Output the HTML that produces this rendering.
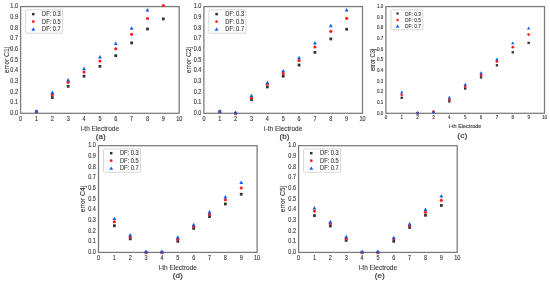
<!DOCTYPE html>
<html><head><meta charset="utf-8"><style>
html,body{margin:0;padding:0;background:#fff;}
body{width:550px;height:283px;overflow:hidden;}
svg{display:block;filter:blur(0.25px);}
text{font-family:"Liberation Sans",Arial,sans-serif;fill:#3c3c3c;stroke:#3c3c3c;stroke-width:0.12px;}
text.cap{stroke-width:0.2px;}
</style></head><body>
<svg width="550" height="283" viewBox="0 0 550 283">
<rect width="550" height="283" fill="#fff"/>
<text transform="translate(18 115) scale(1 1.15)" text-anchor="end" font-size="5.5">0.0</text>
<text transform="translate(18 104.33) scale(1 1.15)" text-anchor="end" font-size="5.5">0.1</text>
<text transform="translate(18 93.66) scale(1 1.15)" text-anchor="end" font-size="5.5">0.2</text>
<text transform="translate(18 82.99) scale(1 1.15)" text-anchor="end" font-size="5.5">0.3</text>
<text transform="translate(18 72.32) scale(1 1.15)" text-anchor="end" font-size="5.5">0.4</text>
<text transform="translate(18 61.65) scale(1 1.15)" text-anchor="end" font-size="5.5">0.5</text>
<text transform="translate(18 50.98) scale(1 1.15)" text-anchor="end" font-size="5.5">0.6</text>
<text transform="translate(18 40.31) scale(1 1.15)" text-anchor="end" font-size="5.5">0.7</text>
<text transform="translate(18 29.64) scale(1 1.15)" text-anchor="end" font-size="5.5">0.8</text>
<text transform="translate(18 18.97) scale(1 1.15)" text-anchor="end" font-size="5.5">0.9</text>
<text transform="translate(18 8.3) scale(1 1.15)" text-anchor="end" font-size="5.5">1.0</text>
<text transform="translate(20.6 120.6) scale(1 1.15)" text-anchor="middle" font-size="5.5">0</text>
<text transform="translate(36.46 120.6) scale(1 1.15)" text-anchor="middle" font-size="5.5">1</text>
<text transform="translate(52.32 120.6) scale(1 1.15)" text-anchor="middle" font-size="5.5">2</text>
<text transform="translate(68.18 120.6) scale(1 1.15)" text-anchor="middle" font-size="5.5">3</text>
<text transform="translate(84.04 120.6) scale(1 1.15)" text-anchor="middle" font-size="5.5">4</text>
<text transform="translate(99.9 120.6) scale(1 1.15)" text-anchor="middle" font-size="5.5">5</text>
<text transform="translate(115.76 120.6) scale(1 1.15)" text-anchor="middle" font-size="5.5">6</text>
<text transform="translate(131.62 120.6) scale(1 1.15)" text-anchor="middle" font-size="5.5">7</text>
<text transform="translate(147.48 120.6) scale(1 1.15)" text-anchor="middle" font-size="5.5">8</text>
<text transform="translate(163.34 120.6) scale(1 1.15)" text-anchor="middle" font-size="5.5">9</text>
<text transform="translate(179.2 120.6) scale(1 1.15)" text-anchor="middle" font-size="5.5">10</text>
<text x="99.9" y="130.6" text-anchor="middle" font-size="6.5">i-th Electrode</text>
<text class="cap" x="100.7" y="138.8" text-anchor="middle" font-size="7.6" textLength="9.9" lengthAdjust="spacingAndGlyphs">(a)</text>
<text transform="translate(8.51 59.95) rotate(-90) scale(1 1.0)" text-anchor="middle" font-size="6.8">error C1j</text>
<rect x="20.6" y="6.6" width="158.6" height="106.7" fill="none" stroke="#7a7a7a" stroke-width="1.25"/>
<rect x="35.06" y="110.3" width="2.79" height="2.79" fill="#333333"/>
<rect x="50.92" y="96.11" width="2.79" height="2.79" fill="#333333"/>
<rect x="66.79" y="84.91" width="2.79" height="2.79" fill="#333333"/>
<rect x="82.64" y="74.77" width="2.79" height="2.79" fill="#333333"/>
<rect x="98.51" y="64.96" width="2.79" height="2.79" fill="#333333"/>
<rect x="114.36" y="54.29" width="2.79" height="2.79" fill="#333333"/>
<rect x="130.22" y="41.48" width="2.79" height="2.79" fill="#333333"/>
<rect x="146.08" y="27.61" width="2.79" height="2.79" fill="#333333"/>
<rect x="161.94" y="17.48" width="2.79" height="2.79" fill="#333333"/>
<circle cx="36.46" cy="111.7" r="1.56" fill="#ff1a1a"/>
<circle cx="52.32" cy="94.84" r="1.56" fill="#ff1a1a"/>
<circle cx="68.18" cy="82.36" r="1.56" fill="#ff1a1a"/>
<circle cx="84.04" cy="72.01" r="1.56" fill="#ff1a1a"/>
<circle cx="99.9" cy="61.02" r="1.56" fill="#ff1a1a"/>
<circle cx="115.76" cy="48.75" r="1.56" fill="#ff1a1a"/>
<circle cx="131.62" cy="34.34" r="1.56" fill="#ff1a1a"/>
<circle cx="147.48" cy="18.55" r="1.56" fill="#ff1a1a"/>
<circle cx="163.34" cy="5.53" r="1.56" fill="#ff1a1a"/>
<path d="M36.46 109.24L38.41 112.66L34.51 112.66Z" fill="#1060e8"/>
<path d="M52.32 90.46L54.27 93.88L50.37 93.88Z" fill="#1060e8"/>
<path d="M68.18 77.98L70.13 81.4L66.23 81.4Z" fill="#1060e8"/>
<path d="M84.04 66.78L85.99 70.2L82.09 70.2Z" fill="#1060e8"/>
<path d="M99.9 55.04L101.85 58.46L97.95 58.46Z" fill="#1060e8"/>
<path d="M115.76 41.59L117.71 45.01L113.81 45.01Z" fill="#1060e8"/>
<path d="M131.62 26.23L133.57 29.65L129.67 29.65Z" fill="#1060e8"/>
<path d="M147.48 8.09L149.43 11.51L145.53 11.51Z" fill="#1060e8"/>
<rect x="25.6" y="9.8" width="37.0" height="23.4" rx="1" fill="#fff" fill-opacity="0.8" stroke="#c8c8c8" stroke-width="0.7"/>
<rect x="32.04" y="12.84" width="2.51" height="2.51" fill="#333333"/>
<text transform="translate(42 16.32) scale(1 1.15)" font-size="5.75" textLength="18.8" lengthAdjust="spacingAndGlyphs">DF: 0.3</text>
<circle cx="33.3" cy="21.55" r="1.4" fill="#ff1a1a"/>
<text transform="translate(42 23.77) scale(1 1.15)" font-size="5.75" textLength="18.8" lengthAdjust="spacingAndGlyphs">DF: 0.5</text>
<path d="M33.3 27.29L35.25 30.71L31.35 30.71Z" fill="#1060e8"/>
<text transform="translate(42 31.22) scale(1 1.15)" font-size="5.75" textLength="18.8" lengthAdjust="spacingAndGlyphs">DF: 0.7</text>
<text transform="translate(201.3 115) scale(1 1.15)" text-anchor="end" font-size="5.5">0.0</text>
<text transform="translate(201.3 104.33) scale(1 1.15)" text-anchor="end" font-size="5.5">0.1</text>
<text transform="translate(201.3 93.66) scale(1 1.15)" text-anchor="end" font-size="5.5">0.2</text>
<text transform="translate(201.3 82.99) scale(1 1.15)" text-anchor="end" font-size="5.5">0.3</text>
<text transform="translate(201.3 72.32) scale(1 1.15)" text-anchor="end" font-size="5.5">0.4</text>
<text transform="translate(201.3 61.65) scale(1 1.15)" text-anchor="end" font-size="5.5">0.5</text>
<text transform="translate(201.3 50.98) scale(1 1.15)" text-anchor="end" font-size="5.5">0.6</text>
<text transform="translate(201.3 40.31) scale(1 1.15)" text-anchor="end" font-size="5.5">0.7</text>
<text transform="translate(201.3 29.64) scale(1 1.15)" text-anchor="end" font-size="5.5">0.8</text>
<text transform="translate(201.3 18.97) scale(1 1.15)" text-anchor="end" font-size="5.5">0.9</text>
<text transform="translate(201.3 8.3) scale(1 1.15)" text-anchor="end" font-size="5.5">1.0</text>
<text transform="translate(203.9 120.6) scale(1 1.15)" text-anchor="middle" font-size="5.5">0</text>
<text transform="translate(219.76 120.6) scale(1 1.15)" text-anchor="middle" font-size="5.5">1</text>
<text transform="translate(235.62 120.6) scale(1 1.15)" text-anchor="middle" font-size="5.5">2</text>
<text transform="translate(251.48 120.6) scale(1 1.15)" text-anchor="middle" font-size="5.5">3</text>
<text transform="translate(267.34 120.6) scale(1 1.15)" text-anchor="middle" font-size="5.5">4</text>
<text transform="translate(283.2 120.6) scale(1 1.15)" text-anchor="middle" font-size="5.5">5</text>
<text transform="translate(299.06 120.6) scale(1 1.15)" text-anchor="middle" font-size="5.5">6</text>
<text transform="translate(314.92 120.6) scale(1 1.15)" text-anchor="middle" font-size="5.5">7</text>
<text transform="translate(330.78 120.6) scale(1 1.15)" text-anchor="middle" font-size="5.5">8</text>
<text transform="translate(346.64 120.6) scale(1 1.15)" text-anchor="middle" font-size="5.5">9</text>
<text transform="translate(362.5 120.6) scale(1 1.15)" text-anchor="middle" font-size="5.5">10</text>
<text x="283.2" y="130.6" text-anchor="middle" font-size="6.5">i-th Electrode</text>
<text class="cap" x="284.4" y="138.8" text-anchor="middle" font-size="7.6" textLength="9.9" lengthAdjust="spacingAndGlyphs">(b)</text>
<text transform="translate(191.21 59.95) rotate(-90) scale(1 1.0)" text-anchor="middle" font-size="6.8">error C2j</text>
<rect x="203.9" y="6.6" width="158.6" height="106.7" fill="none" stroke="#7a7a7a" stroke-width="1.25"/>
<rect x="218.36" y="110.3" width="2.79" height="2.79" fill="#333333"/>
<rect x="234.22" y="111.91" width="2.79" height="2.79" fill="#333333"/>
<rect x="250.09" y="98.25" width="2.79" height="2.79" fill="#333333"/>
<rect x="265.95" y="85.55" width="2.79" height="2.79" fill="#333333"/>
<rect x="281.81" y="74.77" width="2.79" height="2.79" fill="#333333"/>
<rect x="297.67" y="63.68" width="2.79" height="2.79" fill="#333333"/>
<rect x="313.53" y="50.98" width="2.79" height="2.79" fill="#333333"/>
<rect x="329.38" y="37.54" width="2.79" height="2.79" fill="#333333"/>
<rect x="345.25" y="27.83" width="2.79" height="2.79" fill="#333333"/>
<circle cx="219.76" cy="111.7" r="1.56" fill="#ff1a1a"/>
<circle cx="235.62" cy="113.3" r="1.56" fill="#ff1a1a"/>
<circle cx="251.48" cy="97.83" r="1.56" fill="#ff1a1a"/>
<circle cx="267.34" cy="84.28" r="1.56" fill="#ff1a1a"/>
<circle cx="283.2" cy="73.39" r="1.56" fill="#ff1a1a"/>
<circle cx="299.06" cy="60.48" r="1.56" fill="#ff1a1a"/>
<circle cx="314.92" cy="47.04" r="1.56" fill="#ff1a1a"/>
<circle cx="330.78" cy="31.35" r="1.56" fill="#ff1a1a"/>
<circle cx="346.64" cy="18.34" r="1.56" fill="#ff1a1a"/>
<path d="M219.76 109.24L221.71 112.66L217.81 112.66Z" fill="#1060e8"/>
<path d="M235.62 110.52L237.57 113.94L233.67 113.94Z" fill="#1060e8"/>
<path d="M251.48 93.66L253.43 97.08L249.53 97.08Z" fill="#1060e8"/>
<path d="M267.34 80.65L269.29 84.07L265.39 84.07Z" fill="#1060e8"/>
<path d="M283.2 68.91L285.15 72.33L281.25 72.33Z" fill="#1060e8"/>
<path d="M299.06 55.79L301.01 59.21L297.11 59.21Z" fill="#1060e8"/>
<path d="M314.92 41.06L316.87 44.48L312.97 44.48Z" fill="#1060e8"/>
<path d="M330.78 23.78L332.73 27.2L328.83 27.2Z" fill="#1060e8"/>
<path d="M346.64 8.09L348.59 11.51L344.69 11.51Z" fill="#1060e8"/>
<rect x="208.9" y="9.8" width="37.0" height="23.4" rx="1" fill="#fff" fill-opacity="0.8" stroke="#c8c8c8" stroke-width="0.7"/>
<rect x="215.34" y="12.84" width="2.51" height="2.51" fill="#333333"/>
<text transform="translate(225.3 16.32) scale(1 1.15)" font-size="5.75" textLength="18.8" lengthAdjust="spacingAndGlyphs">DF: 0.3</text>
<circle cx="216.6" cy="21.55" r="1.4" fill="#ff1a1a"/>
<text transform="translate(225.3 23.77) scale(1 1.15)" font-size="5.75" textLength="18.8" lengthAdjust="spacingAndGlyphs">DF: 0.5</text>
<path d="M216.6 27.29L218.55 30.71L214.65 30.71Z" fill="#1060e8"/>
<text transform="translate(225.3 31.22) scale(1 1.15)" font-size="5.75" textLength="18.8" lengthAdjust="spacingAndGlyphs">DF: 0.7</text>
<text transform="translate(383.3 114.8) scale(1 1.0)" text-anchor="end" font-size="4.5">0.0</text>
<text transform="translate(383.3 104.13) scale(1 1.0)" text-anchor="end" font-size="4.5">0.1</text>
<text transform="translate(383.3 93.46) scale(1 1.0)" text-anchor="end" font-size="4.5">0.2</text>
<text transform="translate(383.3 82.79) scale(1 1.0)" text-anchor="end" font-size="4.5">0.3</text>
<text transform="translate(383.3 72.12) scale(1 1.0)" text-anchor="end" font-size="4.5">0.4</text>
<text transform="translate(383.3 61.45) scale(1 1.0)" text-anchor="end" font-size="4.5">0.5</text>
<text transform="translate(383.3 50.78) scale(1 1.0)" text-anchor="end" font-size="4.5">0.6</text>
<text transform="translate(383.3 40.11) scale(1 1.0)" text-anchor="end" font-size="4.5">0.7</text>
<text transform="translate(383.3 29.44) scale(1 1.0)" text-anchor="end" font-size="4.5">0.8</text>
<text transform="translate(383.3 18.77) scale(1 1.0)" text-anchor="end" font-size="4.5">0.9</text>
<text transform="translate(383.3 8.1) scale(1 1.0)" text-anchor="end" font-size="4.5">1.0</text>
<text transform="translate(385.9 119.2) scale(1 1.0)" text-anchor="middle" font-size="4.5">0</text>
<text transform="translate(401.76 119.2) scale(1 1.0)" text-anchor="middle" font-size="4.5">1</text>
<text transform="translate(417.62 119.2) scale(1 1.0)" text-anchor="middle" font-size="4.5">2</text>
<text transform="translate(433.48 119.2) scale(1 1.0)" text-anchor="middle" font-size="4.5">3</text>
<text transform="translate(449.34 119.2) scale(1 1.0)" text-anchor="middle" font-size="4.5">4</text>
<text transform="translate(465.2 119.2) scale(1 1.0)" text-anchor="middle" font-size="4.5">5</text>
<text transform="translate(481.06 119.2) scale(1 1.0)" text-anchor="middle" font-size="4.5">6</text>
<text transform="translate(496.92 119.2) scale(1 1.0)" text-anchor="middle" font-size="4.5">7</text>
<text transform="translate(512.78 119.2) scale(1 1.0)" text-anchor="middle" font-size="4.5">8</text>
<text transform="translate(528.64 119.2) scale(1 1.0)" text-anchor="middle" font-size="4.5">9</text>
<text transform="translate(544.5 119.2) scale(1 1.0)" text-anchor="middle" font-size="4.5">10</text>
<text x="465.2" y="127.9" text-anchor="middle" font-size="5.5">i-th Electrode</text>
<text class="cap" x="462.3" y="137.8" text-anchor="middle" font-size="7.6" textLength="9.9" lengthAdjust="spacingAndGlyphs">(c)</text>
<text transform="translate(375.43 59.95) rotate(-90) scale(1 1.25)" text-anchor="middle" font-size="5.7">error C3j</text>
<rect x="385.9" y="6.6" width="158.6" height="106.7" fill="none" stroke="#7a7a7a" stroke-width="1.25"/>
<rect x="400.57" y="96.64" width="2.37" height="2.37" fill="#333333"/>
<rect x="416.43" y="112.11" width="2.37" height="2.37" fill="#333333"/>
<rect x="432.29" y="110.73" width="2.37" height="2.37" fill="#333333"/>
<rect x="448.15" y="100.16" width="2.37" height="2.37" fill="#333333"/>
<rect x="464.01" y="87.36" width="2.37" height="2.37" fill="#333333"/>
<rect x="479.87" y="76.16" width="2.37" height="2.37" fill="#333333"/>
<rect x="495.73" y="64.1" width="2.37" height="2.37" fill="#333333"/>
<rect x="511.59" y="51.08" width="2.37" height="2.37" fill="#333333"/>
<rect x="527.45" y="41.69" width="2.37" height="2.37" fill="#333333"/>
<circle cx="401.76" cy="94.84" r="1.33" fill="#ff1a1a"/>
<circle cx="417.62" cy="113.3" r="1.33" fill="#ff1a1a"/>
<circle cx="433.48" cy="111.91" r="1.33" fill="#ff1a1a"/>
<circle cx="449.34" cy="99.32" r="1.33" fill="#ff1a1a"/>
<circle cx="465.2" cy="86.41" r="1.33" fill="#ff1a1a"/>
<circle cx="481.06" cy="74.89" r="1.33" fill="#ff1a1a"/>
<circle cx="496.92" cy="61.44" r="1.33" fill="#ff1a1a"/>
<circle cx="512.78" cy="47.15" r="1.33" fill="#ff1a1a"/>
<circle cx="528.64" cy="34.56" r="1.33" fill="#ff1a1a"/>
<path d="M401.76 90.61L403.42 93.52L400.1 93.52Z" fill="#1060e8"/>
<path d="M417.62 110.78L419.28 113.69L415.96 113.69Z" fill="#1060e8"/>
<path d="M433.48 110.46L435.14 113.37L431.82 113.37Z" fill="#1060e8"/>
<path d="M449.34 95.73L451 98.64L447.68 98.64Z" fill="#1060e8"/>
<path d="M465.2 82.82L466.86 85.73L463.54 85.73Z" fill="#1060e8"/>
<path d="M481.06 71.3L482.72 74.21L479.4 74.21Z" fill="#1060e8"/>
<path d="M496.92 57.54L498.58 60.44L495.26 60.44Z" fill="#1060e8"/>
<path d="M512.78 41.42L514.44 44.33L511.12 44.33Z" fill="#1060e8"/>
<path d="M528.64 26.49L530.3 29.39L526.98 29.39Z" fill="#1060e8"/>
<rect x="391" y="9.9" width="31.8" height="19.8" rx="1" fill="#fff" fill-opacity="0.8" stroke="#c8c8c8" stroke-width="0.7"/>
<rect x="396.38" y="12.38" width="2.23" height="2.23" fill="#333333"/>
<text transform="translate(405.1 15.57) scale(1 1.15)" font-size="5.3" textLength="15.9" lengthAdjust="spacingAndGlyphs">DF: 0.3</text>
<circle cx="397.5" cy="19.9" r="1.25" fill="#ff1a1a"/>
<text transform="translate(405.1 21.97) scale(1 1.15)" font-size="5.3" textLength="15.9" lengthAdjust="spacingAndGlyphs">DF: 0.5</text>
<path d="M397.5 24.45L399.38 27.75L395.62 27.75Z" fill="#1060e8"/>
<text transform="translate(405.1 28.17) scale(1 1.15)" font-size="5.3" textLength="15.9" lengthAdjust="spacingAndGlyphs">DF: 0.7</text>
<text transform="translate(95.9 254.1) scale(1 1.15)" text-anchor="end" font-size="5.5">0.0</text>
<text transform="translate(95.9 243.43) scale(1 1.15)" text-anchor="end" font-size="5.5">0.1</text>
<text transform="translate(95.9 232.76) scale(1 1.15)" text-anchor="end" font-size="5.5">0.2</text>
<text transform="translate(95.9 222.09) scale(1 1.15)" text-anchor="end" font-size="5.5">0.3</text>
<text transform="translate(95.9 211.42) scale(1 1.15)" text-anchor="end" font-size="5.5">0.4</text>
<text transform="translate(95.9 200.75) scale(1 1.15)" text-anchor="end" font-size="5.5">0.5</text>
<text transform="translate(95.9 190.08) scale(1 1.15)" text-anchor="end" font-size="5.5">0.6</text>
<text transform="translate(95.9 179.41) scale(1 1.15)" text-anchor="end" font-size="5.5">0.7</text>
<text transform="translate(95.9 168.74) scale(1 1.15)" text-anchor="end" font-size="5.5">0.8</text>
<text transform="translate(95.9 158.07) scale(1 1.15)" text-anchor="end" font-size="5.5">0.9</text>
<text transform="translate(95.9 147.4) scale(1 1.15)" text-anchor="end" font-size="5.5">1.0</text>
<text transform="translate(98.5 259.7) scale(1 1.15)" text-anchor="middle" font-size="5.5">0</text>
<text transform="translate(114.36 259.7) scale(1 1.15)" text-anchor="middle" font-size="5.5">1</text>
<text transform="translate(130.22 259.7) scale(1 1.15)" text-anchor="middle" font-size="5.5">2</text>
<text transform="translate(146.08 259.7) scale(1 1.15)" text-anchor="middle" font-size="5.5">3</text>
<text transform="translate(161.94 259.7) scale(1 1.15)" text-anchor="middle" font-size="5.5">4</text>
<text transform="translate(177.8 259.7) scale(1 1.15)" text-anchor="middle" font-size="5.5">5</text>
<text transform="translate(193.66 259.7) scale(1 1.15)" text-anchor="middle" font-size="5.5">6</text>
<text transform="translate(209.52 259.7) scale(1 1.15)" text-anchor="middle" font-size="5.5">7</text>
<text transform="translate(225.38 259.7) scale(1 1.15)" text-anchor="middle" font-size="5.5">8</text>
<text transform="translate(241.24 259.7) scale(1 1.15)" text-anchor="middle" font-size="5.5">9</text>
<text transform="translate(257.1 259.7) scale(1 1.15)" text-anchor="middle" font-size="5.5">10</text>
<text x="177.8" y="269.7" text-anchor="middle" font-size="6.5">i-th Electrode</text>
<text class="cap" x="177.8" y="277.9" text-anchor="middle" font-size="7.6" textLength="9.9" lengthAdjust="spacingAndGlyphs">(d)</text>
<text transform="translate(85.41 199.05) rotate(-90) scale(1 1.0)" text-anchor="middle" font-size="6.8">error C4j</text>
<rect x="98.5" y="145.7" width="158.6" height="106.7" fill="none" stroke="#7a7a7a" stroke-width="1.25"/>
<rect x="112.97" y="224.33" width="2.79" height="2.79" fill="#333333"/>
<rect x="128.82" y="237.45" width="2.79" height="2.79" fill="#333333"/>
<rect x="144.68" y="251" width="2.79" height="2.79" fill="#333333"/>
<rect x="160.54" y="251" width="2.79" height="2.79" fill="#333333"/>
<rect x="176.41" y="239.91" width="2.79" height="2.79" fill="#333333"/>
<rect x="192.26" y="227" width="2.79" height="2.79" fill="#333333"/>
<rect x="208.12" y="215.15" width="2.79" height="2.79" fill="#333333"/>
<rect x="223.98" y="202.56" width="2.79" height="2.79" fill="#333333"/>
<rect x="239.84" y="192.85" width="2.79" height="2.79" fill="#333333"/>
<circle cx="114.36" cy="221.78" r="1.56" fill="#ff1a1a"/>
<circle cx="130.22" cy="237.04" r="1.56" fill="#ff1a1a"/>
<circle cx="146.08" cy="252.4" r="1.56" fill="#ff1a1a"/>
<circle cx="161.94" cy="252.4" r="1.56" fill="#ff1a1a"/>
<circle cx="177.8" cy="239.17" r="1.56" fill="#ff1a1a"/>
<circle cx="193.66" cy="226.26" r="1.56" fill="#ff1a1a"/>
<circle cx="209.52" cy="214.09" r="1.56" fill="#ff1a1a"/>
<circle cx="225.38" cy="199.69" r="1.56" fill="#ff1a1a"/>
<circle cx="241.24" cy="187.95" r="1.56" fill="#ff1a1a"/>
<path d="M114.36 216.65L116.31 220.07L112.41 220.07Z" fill="#1060e8"/>
<path d="M130.22 232.98L132.17 236.4L128.27 236.4Z" fill="#1060e8"/>
<path d="M146.08 249.62L148.03 253.04L144.13 253.04Z" fill="#1060e8"/>
<path d="M161.94 249.62L163.89 253.04L159.99 253.04Z" fill="#1060e8"/>
<path d="M177.8 235.33L179.75 238.75L175.85 238.75Z" fill="#1060e8"/>
<path d="M193.66 222.73L195.61 226.15L191.71 226.15Z" fill="#1060e8"/>
<path d="M209.52 210.04L211.47 213.46L207.57 213.46Z" fill="#1060e8"/>
<path d="M225.38 194.99L227.33 198.41L223.43 198.41Z" fill="#1060e8"/>
<path d="M241.24 180.59L243.19 184.01L239.29 184.01Z" fill="#1060e8"/>
<rect x="103.5" y="148.9" width="37.0" height="23.4" rx="1" fill="#fff" fill-opacity="0.8" stroke="#c8c8c8" stroke-width="0.7"/>
<rect x="109.94" y="151.94" width="2.51" height="2.51" fill="#333333"/>
<text transform="translate(119.9 155.42) scale(1 1.15)" font-size="5.75" textLength="18.8" lengthAdjust="spacingAndGlyphs">DF: 0.3</text>
<circle cx="111.2" cy="160.65" r="1.4" fill="#ff1a1a"/>
<text transform="translate(119.9 162.87) scale(1 1.15)" font-size="5.75" textLength="18.8" lengthAdjust="spacingAndGlyphs">DF: 0.5</text>
<path d="M111.2 166.39L113.15 169.81L109.25 169.81Z" fill="#1060e8"/>
<text transform="translate(119.9 170.32) scale(1 1.15)" font-size="5.75" textLength="18.8" lengthAdjust="spacingAndGlyphs">DF: 0.7</text>
<text transform="translate(296 254.1) scale(1 1.15)" text-anchor="end" font-size="5.5">0.0</text>
<text transform="translate(296 243.43) scale(1 1.15)" text-anchor="end" font-size="5.5">0.1</text>
<text transform="translate(296 232.76) scale(1 1.15)" text-anchor="end" font-size="5.5">0.2</text>
<text transform="translate(296 222.09) scale(1 1.15)" text-anchor="end" font-size="5.5">0.3</text>
<text transform="translate(296 211.42) scale(1 1.15)" text-anchor="end" font-size="5.5">0.4</text>
<text transform="translate(296 200.75) scale(1 1.15)" text-anchor="end" font-size="5.5">0.5</text>
<text transform="translate(296 190.08) scale(1 1.15)" text-anchor="end" font-size="5.5">0.6</text>
<text transform="translate(296 179.41) scale(1 1.15)" text-anchor="end" font-size="5.5">0.7</text>
<text transform="translate(296 168.74) scale(1 1.15)" text-anchor="end" font-size="5.5">0.8</text>
<text transform="translate(296 158.07) scale(1 1.15)" text-anchor="end" font-size="5.5">0.9</text>
<text transform="translate(296 147.4) scale(1 1.15)" text-anchor="end" font-size="5.5">1.0</text>
<text transform="translate(298.6 259.7) scale(1 1.15)" text-anchor="middle" font-size="5.5">0</text>
<text transform="translate(314.46 259.7) scale(1 1.15)" text-anchor="middle" font-size="5.5">1</text>
<text transform="translate(330.32 259.7) scale(1 1.15)" text-anchor="middle" font-size="5.5">2</text>
<text transform="translate(346.18 259.7) scale(1 1.15)" text-anchor="middle" font-size="5.5">3</text>
<text transform="translate(362.04 259.7) scale(1 1.15)" text-anchor="middle" font-size="5.5">4</text>
<text transform="translate(377.9 259.7) scale(1 1.15)" text-anchor="middle" font-size="5.5">5</text>
<text transform="translate(393.76 259.7) scale(1 1.15)" text-anchor="middle" font-size="5.5">6</text>
<text transform="translate(409.62 259.7) scale(1 1.15)" text-anchor="middle" font-size="5.5">7</text>
<text transform="translate(425.48 259.7) scale(1 1.15)" text-anchor="middle" font-size="5.5">8</text>
<text transform="translate(441.34 259.7) scale(1 1.15)" text-anchor="middle" font-size="5.5">9</text>
<text transform="translate(457.2 259.7) scale(1 1.15)" text-anchor="middle" font-size="5.5">10</text>
<text x="377.9" y="269.7" text-anchor="middle" font-size="6.5">i-th Electrode</text>
<text class="cap" x="379.7" y="277.9" text-anchor="middle" font-size="7.6" textLength="9.9" lengthAdjust="spacingAndGlyphs">(e)</text>
<text transform="translate(285.41 199.05) rotate(-90) scale(1 1.0)" text-anchor="middle" font-size="6.8">error C5j</text>
<rect x="298.6" y="145.7" width="158.6" height="106.7" fill="none" stroke="#7a7a7a" stroke-width="1.25"/>
<rect x="313.07" y="214.19" width="2.79" height="2.79" fill="#333333"/>
<rect x="328.93" y="224.54" width="2.79" height="2.79" fill="#333333"/>
<rect x="344.79" y="238.95" width="2.79" height="2.79" fill="#333333"/>
<rect x="360.65" y="251" width="2.79" height="2.79" fill="#333333"/>
<rect x="376.51" y="251" width="2.79" height="2.79" fill="#333333"/>
<rect x="392.37" y="239.91" width="2.79" height="2.79" fill="#333333"/>
<rect x="408.23" y="226.04" width="2.79" height="2.79" fill="#333333"/>
<rect x="424.09" y="213.87" width="2.79" height="2.79" fill="#333333"/>
<rect x="439.95" y="204.06" width="2.79" height="2.79" fill="#333333"/>
<circle cx="314.46" cy="211.11" r="1.56" fill="#ff1a1a"/>
<circle cx="330.32" cy="223.59" r="1.56" fill="#ff1a1a"/>
<circle cx="346.18" cy="238.53" r="1.56" fill="#ff1a1a"/>
<circle cx="362.04" cy="252.4" r="1.56" fill="#ff1a1a"/>
<circle cx="377.9" cy="252.4" r="1.56" fill="#ff1a1a"/>
<circle cx="393.76" cy="239.06" r="1.56" fill="#ff1a1a"/>
<circle cx="409.62" cy="225.62" r="1.56" fill="#ff1a1a"/>
<circle cx="425.48" cy="212.28" r="1.56" fill="#ff1a1a"/>
<circle cx="441.34" cy="200.33" r="1.56" fill="#ff1a1a"/>
<path d="M314.46 206.09L316.41 209.51L312.51 209.51Z" fill="#1060e8"/>
<path d="M330.32 219.75L332.27 223.17L328.37 223.17Z" fill="#1060e8"/>
<path d="M346.18 234.79L348.13 238.21L344.23 238.21Z" fill="#1060e8"/>
<path d="M362.04 249.62L363.99 253.04L360.09 253.04Z" fill="#1060e8"/>
<path d="M377.9 249.62L379.85 253.04L375.95 253.04Z" fill="#1060e8"/>
<path d="M393.76 235.65L395.71 239.07L391.81 239.07Z" fill="#1060e8"/>
<path d="M409.62 222.09L411.57 225.51L407.67 225.51Z" fill="#1060e8"/>
<path d="M425.48 207.58L427.43 211L423.53 211Z" fill="#1060e8"/>
<path d="M441.34 194.14L443.29 197.56L439.39 197.56Z" fill="#1060e8"/>
<rect x="303.6" y="148.9" width="37.0" height="23.4" rx="1" fill="#fff" fill-opacity="0.8" stroke="#c8c8c8" stroke-width="0.7"/>
<rect x="310.04" y="151.94" width="2.51" height="2.51" fill="#333333"/>
<text transform="translate(320 155.42) scale(1 1.15)" font-size="5.75" textLength="18.8" lengthAdjust="spacingAndGlyphs">DF: 0.3</text>
<circle cx="311.3" cy="160.65" r="1.4" fill="#ff1a1a"/>
<text transform="translate(320 162.87) scale(1 1.15)" font-size="5.75" textLength="18.8" lengthAdjust="spacingAndGlyphs">DF: 0.5</text>
<path d="M311.3 166.39L313.25 169.81L309.35 169.81Z" fill="#1060e8"/>
<text transform="translate(320 170.32) scale(1 1.15)" font-size="5.75" textLength="18.8" lengthAdjust="spacingAndGlyphs">DF: 0.7</text>
</svg>
</body></html>
